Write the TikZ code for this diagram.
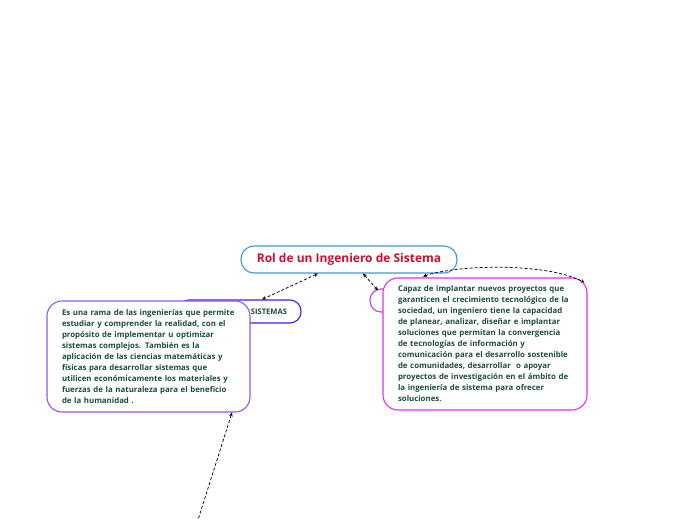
\documentclass[tikz,border=0pt]{standalone}
\usepackage{fontspec}
\setmainfont{Open Sans}
\usetikzlibrary{arrows.meta}
\definecolor{titlered}{RGB}{200,16,52}
\definecolor{centralblue}{RGB}{70,150,210}
\definecolor{subblue}{RGB}{60,30,240}
\definecolor{leftpurple}{RGB}{140,90,240}
\definecolor{rightmag}{RGB}{225,50,230}
\definecolor{subpurple}{RGB}{180,70,240}
\definecolor{txtgreen}{RGB}{28,78,58}
\tikzset{
  box/.style={draw, fill=white, line width=1.1pt, inner sep=0pt},
  bodytext/.style={text=txtgreen, font=\fontsize{7.85}{11}\selectfont\bfseries, align=left},
  conn/.style={draw=black, line width=0.75pt, dash pattern=on 3pt off 2pt},
  tip/.style={-{Stealth[length=4pt,width=3.6pt]}},
  tips/.style={{Stealth[length=4pt,width=3.6pt]}-{Stealth[length=4pt,width=3.6pt]}}
}
\begin{document}
\begin{tikzpicture}[x=1pt,y=-1pt]
\useasboundingbox (0,0) rectangle (697,520);
% subtopic boxes (behind)
\node[box, draw=subblue, rounded corners=11pt, minimum height=23pt, inner xsep=14pt, text width=95pt, align=right, text=txtgreen, font=\fontsize{7.6}{11}\selectfont\bfseries] (leftsub) at (239.5,311.5) {SISTEMAS};
\node[box, draw=subpurple, rounded corners=11pt, minimum height=23pt, minimum width=60pt] (rightsub) at (400,300.5) {};
% text boxes
\node[box, draw=leftpurple, rounded corners=15pt, minimum width=203pt, minimum height=111pt, inner xsep=15pt, text width=173pt, bodytext] (leftbox) at (148.5,356.5) {Es una rama de las ingenierías que permite\\estudiar y comprender la realidad, con el\\propósito de implementar u optimizar\\sistemas complejos. También es la\\aplicación de las ciencias matemáticas y\\físicas para desarrollar sistemas que\\utilicen económicamente los materiales y\\fuerzas de la naturaleza para el beneficio\\de la humanidad .};
\node[box, draw=rightmag, rounded corners=15pt, minimum width=204pt, minimum height=132pt, inner xsep=15pt, text width=174pt, bodytext] (rightbox) at (485,344) {Capaz de implantar nuevos proyectos que\\garanticen el crecimiento tecnológico de la\\sociedad, un ingeniero tiene la capacidad\\de planear, analizar, diseñar e implantar\\soluciones que permitan la convergencia\\de tecnologías de información y\\comunicación para el desarrollo sostenible\\de comunidades, desarrollar\ \ o apoyar\\proyectos de investigación en el ámbito de\\la ingeniería de sistema para ofrecer\\soluciones.};
% central
\node[box, draw=centralblue, rounded corners=13pt, minimum width=216pt, minimum height=27pt, text=titlered, font=\fontsize{12}{14}\selectfont\bfseries] (central) at (349,259.5) {Rol de un Ingeniero de Sistema};
% connectors
\coordinate (bottomend) at (197,523);
\draw[conn, tips] ([xshift=-31pt]central.south) -- ([xshift=22.5pt]leftsub.north);
\draw[conn, tips] ([xshift=14pt]central.south) -- ([xshift=-22pt,yshift=-2pt]rightsub.north);
\draw[conn, tips] ([xshift=74pt,yshift=-3pt]central.south) .. controls (455,265) and (545,262) .. ([xshift=-3pt,yshift=-5pt]rightbox.north east);
\draw[conn, tip] (bottomend) -- ([xshift=83.5pt]leftbox.south);
\end{tikzpicture}
\end{document}
